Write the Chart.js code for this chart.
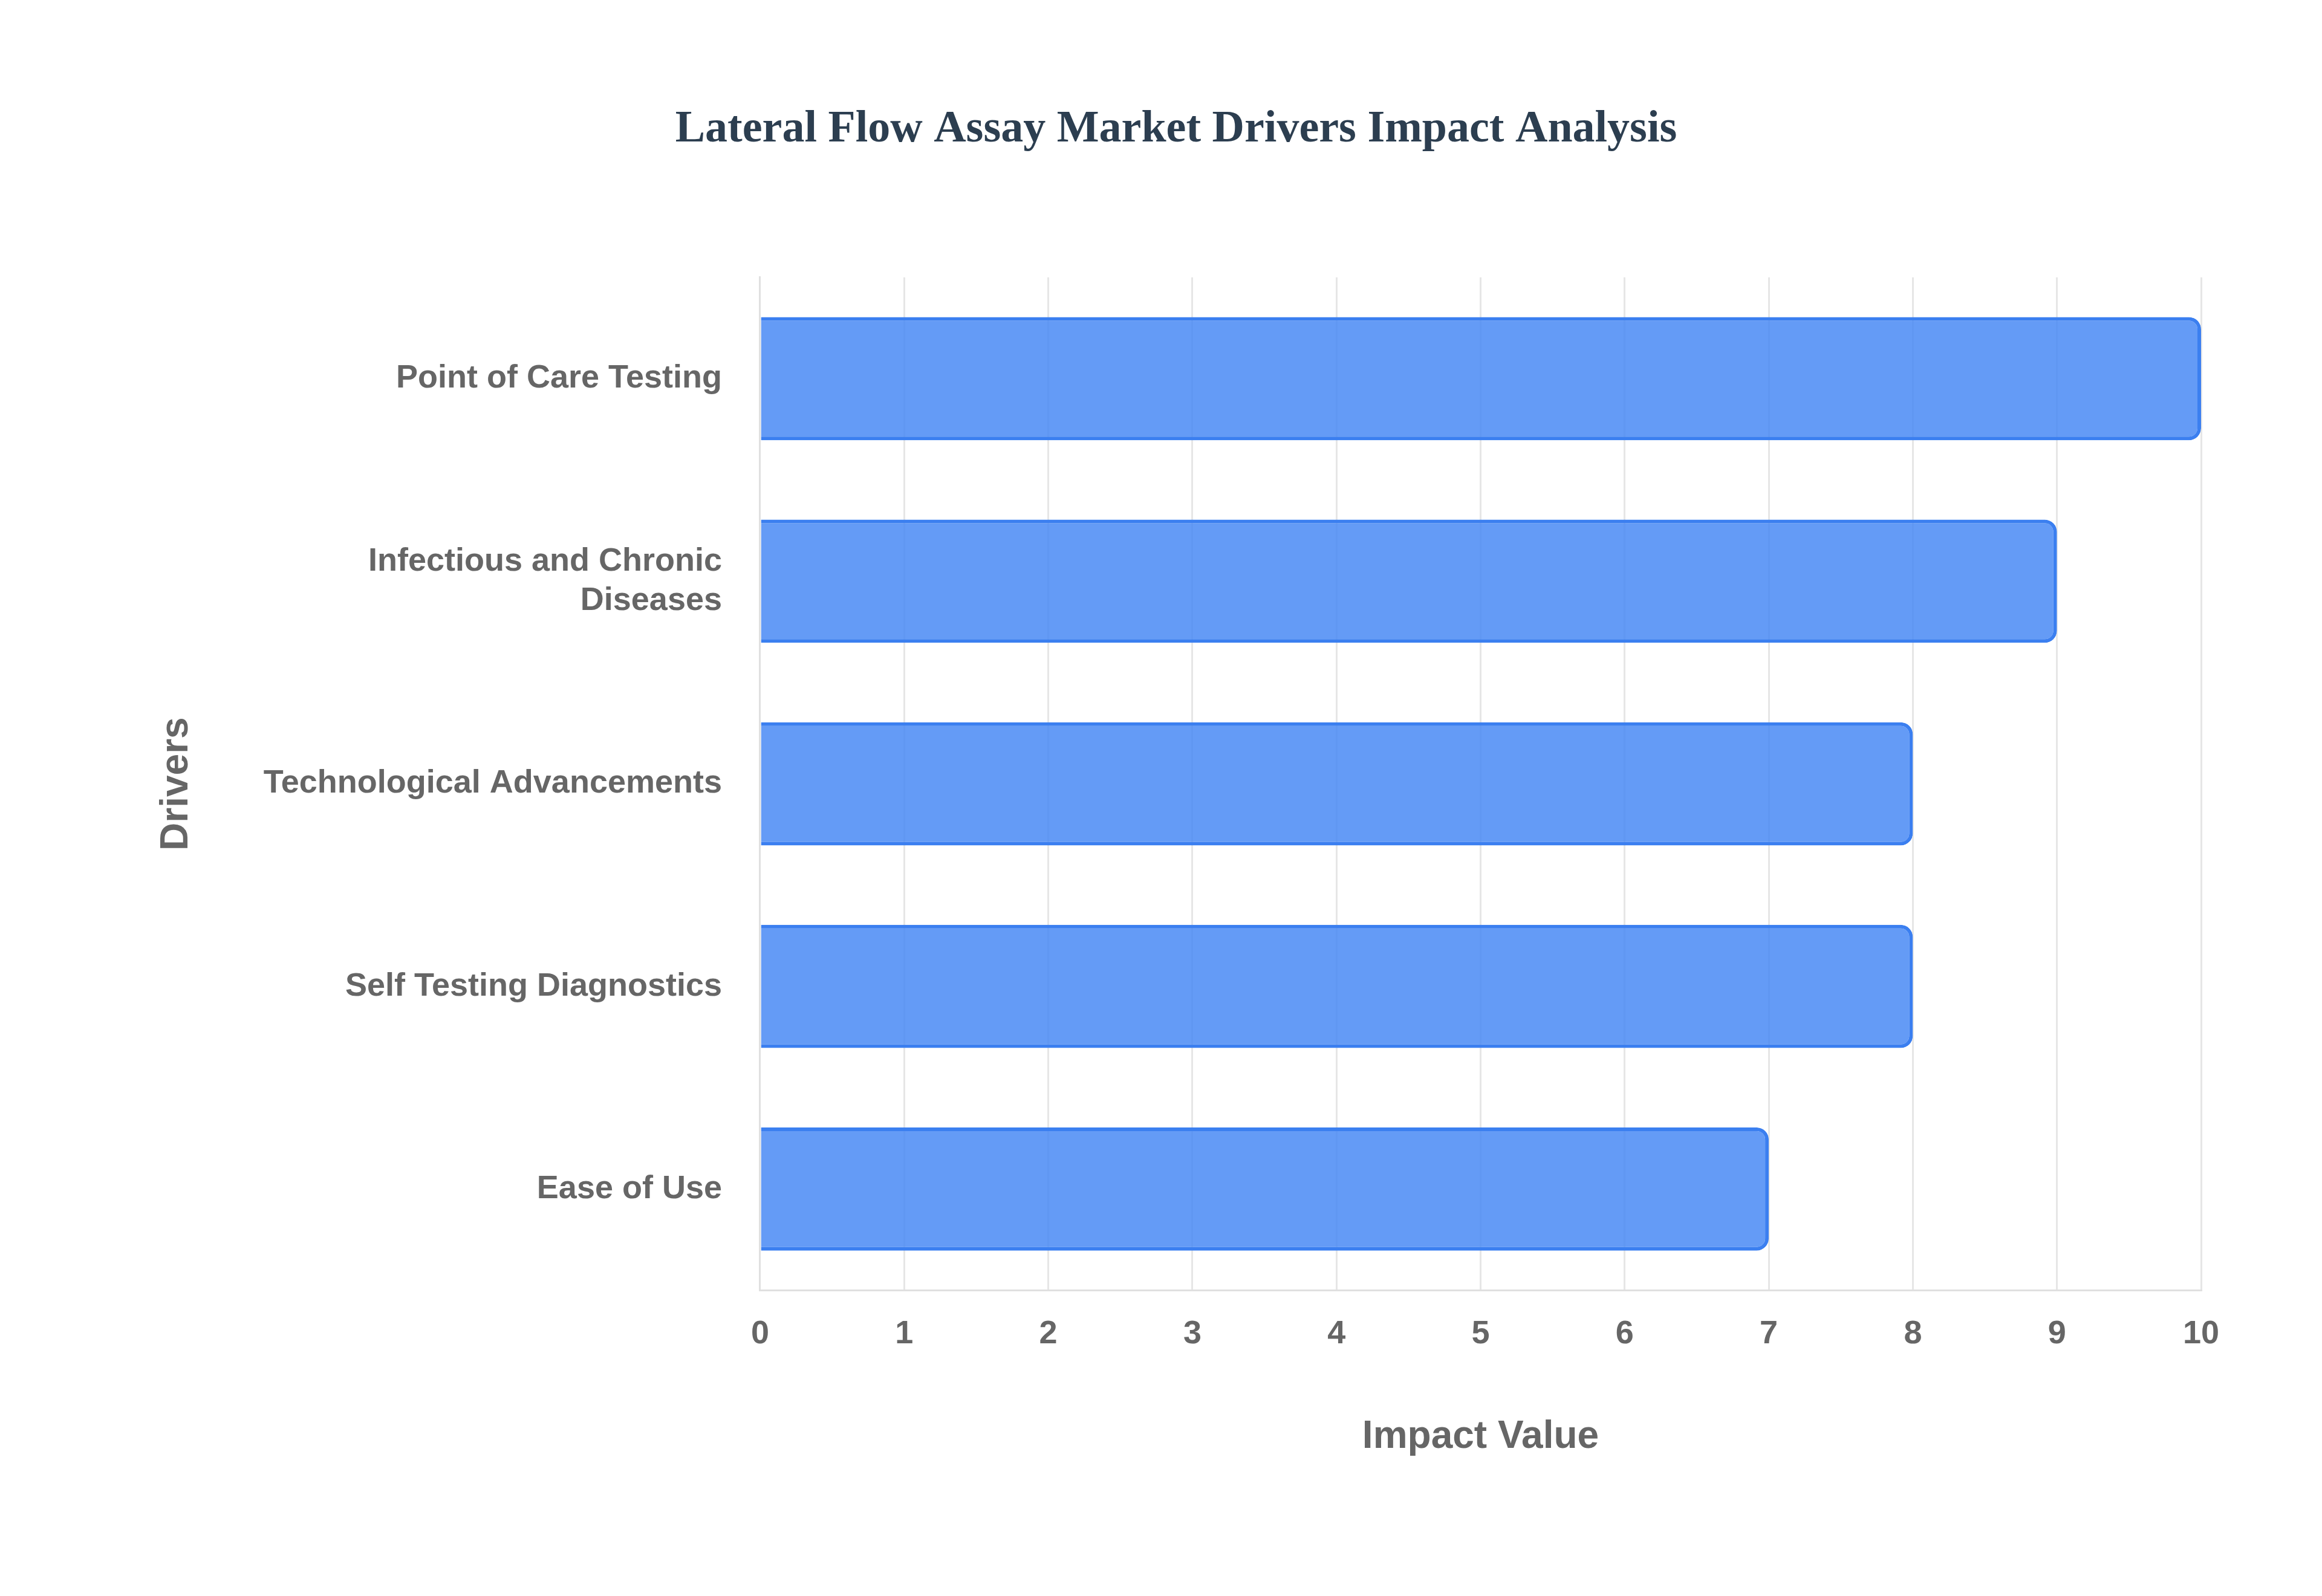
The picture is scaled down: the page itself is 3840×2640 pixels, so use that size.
<!DOCTYPE html>
<html><head><meta charset="utf-8">
<script src="https://cdn.jsdelivr.net/npm/chart.js@4"></script>
<style>html,body{margin:0;padding:0;background:#fff}#w{width:3840px;height:2640px}</style>
</head><body><div id="w"><canvas id="c" width="3840" height="2640"></canvas></div>
<script>
const categories = ["Point of Care Testing", ["Infectious and Chronic","Diseases"], "Technological Advancements", "Self Testing Diagnostics", "Ease of Use"];
const impactValues = [10, 9, 8, 8, 7];
const xTicks = [0,1,2,3,4,5,6,7,8,9,10];
new Chart(document.getElementById('c'), {
  type: 'bar',
  data: { labels: categories, datasets: [{ data: impactValues,
    backgroundColor: 'rgba(66,133,244,0.82)', borderColor: '#3b7ff0', borderWidth: 6,
    borderRadius: 20, borderSkipped: 'left', barPercentage: 0.76, categoryPercentage: 0.8 }] },
  options: {
    indexAxis: 'y', responsive: false, devicePixelRatio: 1, animation: false,
    layout: { padding: { top: 170, left: 250, right: 200, bottom: 220 } },
    plugins: { legend: { display: false }, tooltip: { enabled: false },
      title: { display: true, text: 'Lateral Flow Assay Market Drivers Impact Analysis', color: '#2c3e50',
        font: { family: 'Liberation Serif', size: 74, weight: 'bold' }, padding: { top: 0, bottom: 200 } } },
    scales: {
      x: { min: 0, max: 10, afterBuildTicks: a => { a.ticks = xTicks.map(v => ({ value: v })); },
        grid: { color: '#e6e6e6', lineWidth: 3, drawTicks: false }, border: { color: '#e0e0e0', width: 3 },
        ticks: { color: '#666', padding: 40, font: { family: 'Liberation Sans', size: 54, weight: 'bold' } },
        title: { display: true, text: 'Impact Value', color: '#666', padding: { top: 60 }, font: { family: 'Liberation Sans', size: 64, weight: 'bold' } } },
      y: { grid: { display: false }, border: { color: '#e0e0e0', width: 3 },
        ticks: { color: '#666', padding: 55, font: { family: 'Liberation Sans', size: 54, weight: 'bold' } },
        title: { display: true, text: 'Drivers', color: '#666', padding: { bottom: 50 }, font: { family: 'Liberation Sans', size: 64, weight: 'bold' } } }
    }
  }
});
</script></body></html>
